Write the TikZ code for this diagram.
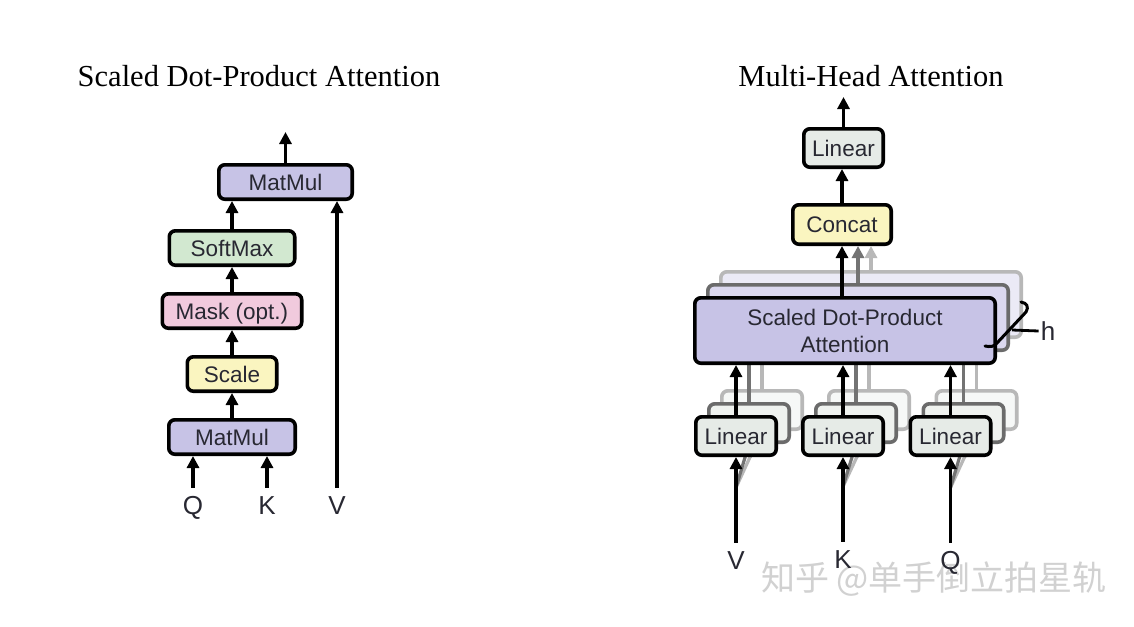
\documentclass[tikz,border=0pt]{standalone}
\usepackage{fontspec}
\setmainfont{Liberation Serif}
\newfontfamily\boxfont{Liberation Sans}
\newfontfamily\cjkfont{Noto Sans CJK SC}
\usepackage{tikz}
\usetikzlibrary{positioning}
\usetikzlibrary{arrows.meta}
\usetikzlibrary{calc}

\definecolor{mmfill}{RGB}{199,195,230}
\definecolor{smfill}{RGB}{210,232,208}
\definecolor{mkfill}{RGB}{241,202,221}
\definecolor{scfill}{RGB}{250,245,192}
\definecolor{lnfill}{RGB}{230,235,231}
\definecolor{txtcol}{RGB}{40,40,50}

\tikzset{
  boxbase/.style={draw=black, line width=3.6pt, rounded corners=6pt, inner sep=0pt,
    text=txtcol, font=\boxfont\fontsize{22.5}{27}\selectfont, align=center},
  box/.style={boxbase, minimum height=34.4pt, text height=16pt, text depth=0pt},
  linbox/.style={box, minimum width=80.4pt, minimum height=38.4pt, fill=lnfill},
  arr/.style={line width=3.2pt, -{Triangle[length=12pt,width=12pt]}},
  lbl/.style={font=\boxfont\fontsize{26}{26}\selectfont, text height=18.5pt, text depth=0pt,
    inner sep=8pt, text=txtcol},
}

\begin{document}
\begin{tikzpicture}[x=1pt, y=-1pt, node distance=25pt]
\useasboundingbox[fill=white] (0,0) rectangle (1134,626);

\node (ttl) at (259,76) {\fontsize{30.5}{30}\selectfont Scaled Dot-Product Attention};
\node (ttr) at (871,76) {\fontsize{30.5}{30}\selectfont Multi-Head Attention};

% scaled dot-product attention
\node[box, fill=mmfill, minimum width=126.4pt] (mm1) at (232,437) {MatMul};
\node[box, fill=scfill, minimum width=89.4pt] (sc) [above=of mm1] {Scale};
\node[box, fill=mkfill, minimum width=139.4pt] (mk) [above=of sc] {Mask (opt.)};
\node[box, fill=smfill, minimum width=125.4pt] (sm) [above=of mk] {SoftMax};
\node[box, fill=mmfill, minimum width=133.4pt] (mm2) at (285.5,182) {MatMul};
\node[lbl] (q) at (193,505) {Q};
\node[lbl] (k) at (267,505) {K};
\node[lbl] (v) at (337,505) {V};
\coordinate (out1) at (285.5,132);

\draw[arr] (q.north) -- (q.north |- mm1.south);
\draw[arr] (k.north) -- (k.north |- mm1.south);
\draw[arr] (v.north) -- (v.north |- mm2.south);
\draw[arr] (mm1) -- (sc);
\draw[arr] (sc) -- (mk);
\draw[arr] (mk) -- (sm);
\draw[arr] (sm.north) -- (sm.north |- mm2.south);
\draw[arr] (mm2.north) -- (out1);

% multi-head attention
\node[text=black!18, font=\cjkfont\fontsize{34}{34}\selectfont] (wm) at (934,579) {知乎 @单手倒立拍星轨};
\node[lbl] (vr) at (736,560) {V};
\node[lbl] (kr) at (843,559) {K};
\node[lbl] (qr) at (950.5,560) {Q};
\node[box, fill=scfill, minimum width=98.4pt, minimum height=39.4pt] (cc) at (842,224.5) {Concat};
\node[box, fill=lnfill, minimum width=79.4pt, minimum height=38.4pt] (lo) at (843.5,148) {Linear};
\coordinate (out2) at (843.5,97);

% stacked heads behind
\foreach \i/\d/\c/\p in {3/26/black!28/35, 2/13/black!58/65} {
  \node[boxbase, draw=\c, fill=mmfill!\p, minimum width=300.4pt, minimum height=65.4pt] (sd\i) at (845+\d,330.5-\d) {};
  \foreach \n/\x in {v/736, k/843, q/950.5}
    \node[linbox, draw=\c, fill=lnfill!\p] (ln\n\i) at (\x+\d,436-\d) {};
}
\foreach \i/\c in {3/black!28, 2/black!55} {
  \draw[arr, draw=\c] (sd\i.north) -- (sd\i.north |- cc.south);
  \foreach \n in {v, k, q} {
    \draw[arr, draw=\c] (ln\n\i.north) -- (ln\n\i.north |- sd\i.south);
    \draw[arr, draw=\c] ($(\n r.north)+(0,-55)$) -- (ln\n\i.south);
  }
}

\node[boxbase, fill=mmfill, minimum width=300.4pt, minimum height=65.4pt] (sd) at (845,330.5)
  {Scaled Dot-Product\\Attention};
\node[linbox] (lnv) at (736,436) {Linear};
\node[linbox] (lnk) at (843,436) {Linear};
\node[linbox] (lnq) at (950.5,436) {Linear};

\draw[arr] (vr.north) -- (vr.north |- lnv.south);
\draw[arr] (kr.north) -- (kr.north |- lnk.south);
\draw[arr] (qr.north) -- (qr.north |- lnq.south);
\draw[arr] (lnv.north) -- (lnv.north |- sd.south);
\draw[arr] (lnk.north) -- (lnk.north |- sd.south);
\draw[arr] (lnq.north) -- (lnq.north |- sd.south);
\draw[arr] (cc.south |- sd.north) -- (cc.south);
\draw[arr] (cc.north) -- (cc.north |- lo.south);
\draw[arr] (lo.north) -- (out2);

% h brace
\node[lbl, inner sep=2pt] (h) at (1048,331) {h};
\coordinate (hb) at (1012,330);
\draw[line width=2.8pt] (hb) -- (h.west);
\draw[line width=3pt, line cap=round] (1021,302) .. controls (1027,303) and (1029,307) .. (1026,312)
  -- (997,343) .. controls (994,347) and (990,347) .. (985,346);
\end{tikzpicture}
\end{document}
